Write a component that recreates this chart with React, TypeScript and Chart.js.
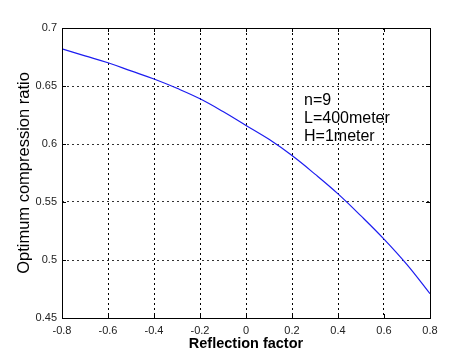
import React, { useEffect, useRef } from "react";
import { Chart, registerables } from "chart.js";

Chart.register(...registerables);

const reflectionFactor = [-0.8, -0.7, -0.6, -0.5, -0.4, -0.3, -0.2, -0.1, 0, 0.1, 0.2, 0.3, 0.4, 0.5, 0.6, 0.7, 0.8];
const compressionRatio = [0.682, 0.676, 0.670, 0.663, 0.656, 0.648, 0.639, 0.628, 0.616, 0.604, 0.590, 0.574, 0.557, 0.538, 0.518, 0.496, 0.471];
const annotationLines = ["n=9", "L=400meter", "H=1meter"];
const xTitle = "Reflection factor";
const yTitle = "Optimum compression ratio";

const FONT = "'Liberation Sans', Arial, sans-serif";

const framePlugin = {
  id: "frame",
  afterDraw(chart: any) {
    const { ctx, chartArea } = chart;
    const { left, right, top, bottom } = chartArea;
    ctx.save();
    ctx.strokeStyle = "#000";
    ctx.lineWidth = 1;
    ctx.setLineDash([]);
    ctx.strokeRect(Math.round(left) + 0.5, Math.round(top) + 0.5, Math.round(right - left), Math.round(bottom - top));
    const xs = chart.scales.x;
    const ys = chart.scales.y;
    ctx.beginPath();
    xs.ticks.forEach((t: any) => {
      const px = Math.round(xs.getPixelForValue(t.value)) + 0.5;
      ctx.moveTo(px, bottom);
      ctx.lineTo(px, bottom - 4);
      ctx.moveTo(px, top);
      ctx.lineTo(px, top + 4);
    });
    ys.ticks.forEach((t: any) => {
      const py = Math.round(ys.getPixelForValue(t.value)) + 0.5;
      ctx.moveTo(left, py);
      ctx.lineTo(left + 4, py);
      ctx.moveTo(right, py);
      ctx.lineTo(right - 4, py);
    });
    ctx.stroke();

    ctx.fillStyle = "#000";
    ctx.font = `16px ${FONT}`;
    ctx.textAlign = "left";
    ctx.textBaseline = "alphabetic";
    annotationLines.forEach((s, i) => {
      ctx.fillText(s, 304, 105 + i * 18);
    });

    ctx.font = `bold 14.5px ${FONT}`;
    ctx.textAlign = "center";
    ctx.textBaseline = "middle";
    ctx.fillText(xTitle, (left + right) / 2, 344);

    ctx.save();
    ctx.translate(24, (top + bottom) / 2);
    ctx.rotate(-Math.PI / 2);
    ctx.font = `16.5px ${FONT}`;
    ctx.fillText(yTitle, 0, 0);
    ctx.restore();
    ctx.restore();
  },
};

export default function App() {
  const ref = useRef<HTMLCanvasElement>(null);

  useEffect(() => {
    document.body.style.margin = "0";
    const canvas = ref.current!;
    const chart = new Chart(canvas, {
      type: "line",
      data: {
        datasets: [
          {
            data: reflectionFactor.map((x, i) => ({ x, y: compressionRatio[i] })),
            borderColor: "#1c1cf0",
            borderWidth: 1.2,
            pointRadius: 0,
            tension: 0.4,
            fill: false,
          },
        ],
      },
      options: {
        animation: false,
        responsive: false,
        devicePixelRatio: 1,
        layout: { padding: { left: 0, top: 28, right: 44, bottom: 0 } },
        plugins: { legend: { display: false }, tooltip: { enabled: false } },
        scales: {
          x: {
            type: "linear",
            min: -0.8,
            max: 0.8,
            afterFit: (s: any) => {
              s.height = 37;
            },
            ticks: {
              stepSize: 0.2,
              color: "#222",
              font: { family: FONT, size: 11 },
              padding: 6,
              maxRotation: 0,
              callback: (v: any) => String(Number(Number(v).toFixed(1))),
            },
            grid: {
              color: "#000",
              lineWidth: 1,
              drawTicks: false,
            },
            border: { display: false, dash: [2, 3] },
          },
          y: {
            type: "linear",
            min: 0.45,
            max: 0.7,
            afterFit: (s: any) => {
              s.width = 62;
            },
            ticks: {
              stepSize: 0.05,
              color: "#222",
              font: { family: FONT, size: 11 },
              padding: 5,
              callback: (v: any) => String(Number(Number(v).toFixed(2))),
            },
            grid: {
              color: "#333",
              lineWidth: 1,
              drawTicks: false,
            },
            border: { display: false, dash: [2, 3] },
          },
        },
      },
      plugins: [framePlugin],
    } as any);
    return () => chart.destroy();
  }, []);

  return (
    <div style={{ width: 474, height: 355, background: "#fff" }}>
      <canvas ref={ref} width={474} height={355} />
    </div>
  );
}
